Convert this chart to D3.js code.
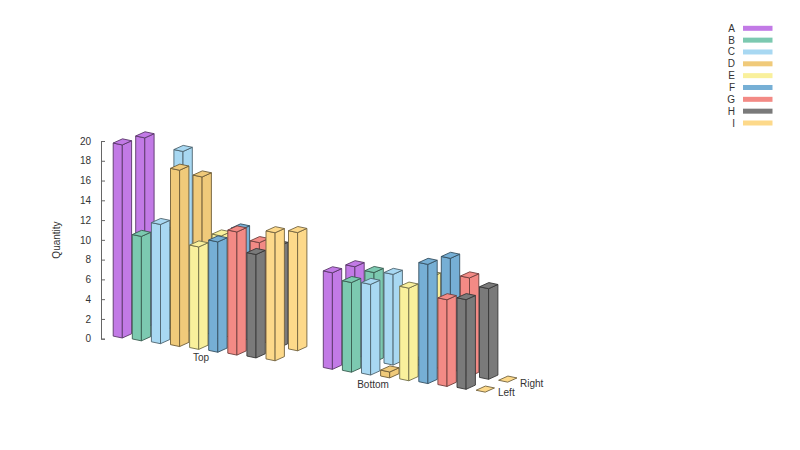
<!DOCTYPE html>
<html>
<head>
<meta charset="utf-8">
<script src="https://cdn.jsdelivr.net/npm/d3@7/dist/d3.min.js"></script>
<style>
html,body{margin:0;padding:0;background:#fff;}
text{font-family:"Liberation Sans",Arial,sans-serif;font-size:10px;fill:#333;}
</style>
</head>
<body>
<svg id="chart" width="800" height="450"></svg>
<script>
const seriesNames = ["A","B","C","D","E","F","G","H","I"];
const seriesColors = ["#c27ae6","#7cc9b0","#a8d8f2","#f0ca7a","#f9f09c","#76afd5","#f38a85","#7a7a7a","#fdd98a"];
const categories = ["Top","Bottom"];
const depths = ["Left","Right"];
const topLeft = [19.6,10.6,12.1,17.9,10.4,11.2,12.5,10.5,13.0];
const topRight = [19.3,10.0,18.5,16.2,10.5,11.4,10.4,10.3,12.0];
const bottomLeft = [9.8,9.1,9.2,0.6,9.4,12.1,8.8,9.1,0];
const bottomRight = [9.4,9.1,9.2,0.6,9.5,11.7,10.0,9.2,0];
const zTicks = [0,2,4,6,8,10,12,14,16,18,20];

const svg = d3.select("#chart");

// oblique projection built from linear scales
const slotX = d3.scaleLinear([0,1],[122.3,141.4]);
const slotY = d3.scaleLinear([0,1],[338,340.85]);
const depthX = d3.scaleLinear([0,1],[0,22.5]);
const depthY = d3.scaleLinear([0,1],[0,-10]);
const zLen = d3.scaleLinear([0,20],[0,197]);
const zAxisScale = d3.scaleLinear([0,20],[338.7,141]);
const groupStart = d3.scaleOrdinal(categories,[0,11]);

const legendY = d3.scalePoint(seriesNames,[28.3,123]);

const bars = [];
const rows = [
  {depth:1,values:[topRight,bottomRight]},
  {depth:0,values:[topLeft,bottomLeft]}
];
rows.forEach(row=>{
  categories.forEach((cat,c)=>{
    row.values[c].forEach((v,s)=>{
      bars.push({slot:groupStart(cat)+s,depth:row.depth,value:v,color:seriesColors[s]});
    });
  });
});

const LEFT=[-9.1,-1.9], RIGHT=[9.3,-4.2];
function poly(pts){return pts.map(p=>p.join(",")).join(" ");}

const barG = svg.append("g").selectAll("g").data(bars).join("g");
barG.each(function(d){
  const g = d3.select(this);
  const mx = slotX(d.slot)+depthX(d.depth);
  const my = slotY(d.slot)+depthY(d.depth);
  const h = zLen(d.value);
  const stroke = d3.color(d.color).darker(2.2).formatHex();
  const l=[mx+LEFT[0],my+LEFT[1]], r=[mx+RIGHT[0],my+RIGHT[1]], m=[mx,my];
  const up=p=>[p[0],p[1]-h];
  const b=[mx+LEFT[0]+RIGHT[0],my+LEFT[1]+RIGHT[1]];
  const st={fill:d.color,stroke:stroke,"stroke-width":0.9,"stroke-linejoin":"round"};
  const add=(pts)=>{
    const a=g.append("polygon").attr("points",poly(pts));
    Object.entries(st).forEach(([k,val])=>a.attr(k,val));
  };
  if(h>0){
    add([l,m,up(m),up(l)]);
    add([m,r,up(r),up(m)]);
  }
  add([up(l),up(m),up(r),up(b)]);
});

// z axis
const axis = d3.axisLeft(zAxisScale).tickValues(zTicks).tickSizeInner(-4).tickSizeOuter(-4).tickPadding(10);
const ax = svg.append("g").attr("transform","translate(101,0)").call(axis);
ax.selectAll("path,line").attr("stroke","#666");
ax.selectAll("text").attr("fill","#333").style("font-size","10px").style("font-family",'"Liberation Sans",Arial,sans-serif');

svg.append("text").attr("transform","translate(60,240) rotate(-90)").attr("text-anchor","middle").text("Quantity");

// category and depth labels
const categoryLabelX = d3.scaleOrdinal(categories,[201,373]);
const categoryLabelY = d3.scaleOrdinal(categories,[361,388]);
svg.append("g").selectAll("text").data(categories).join("text")
  .attr("x",d=>categoryLabelX(d)).attr("y",d=>categoryLabelY(d)).attr("text-anchor","middle").text(d=>d);
const depthLabelX = d3.scaleOrdinal(depths,[498,520]);
const depthLabelY = d3.scaleOrdinal(depths,[396,387]);
svg.append("g").selectAll("text").data(depths).join("text")
  .attr("x",d=>depthLabelX(d)).attr("y",d=>depthLabelY(d)).text(d=>d);

// legend
const lg = svg.append("g").selectAll("g").data(seriesNames).join("g")
  .attr("transform",d=>`translate(0,${legendY(d)})`);
lg.append("text").attr("x",735).attr("y",3.5).attr("text-anchor","end").text(d=>d);
lg.append("rect").attr("x",743).attr("y",-2.5).attr("width",29.5).attr("height",5)
  .attr("fill",(d,i)=>seriesColors[i]);
</script>
</body>
</html>
